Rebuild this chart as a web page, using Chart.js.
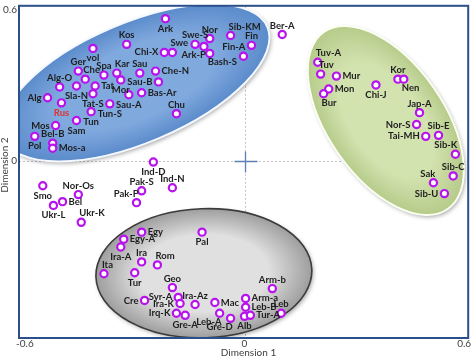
<!DOCTYPE html>
<html>
<head>
<meta charset="utf-8">
<script src="https://cdn.jsdelivr.net/npm/chart.js@4/dist/chart.umd.min.js"></script>
<style>
  html, body { margin: 0; padding: 0; background: #ffffff; }
  #wrap { width: 474px; height: 357px; position: relative; }
</style>
</head>
<body>
<div id="wrap"><canvas id="c" width="474" height="357"></canvas></div>
<script>
// ---------- DATA ----------
const names = [
  'Kos','vol','Ger','Che','Spa','Kar','Sau','Che-N','Alg-O','Sla-N','Tat','Mor','Tat-S','Sau-A','Bas-Ar','Sau-B',
  'Alg','Rus','Tun-S','Tun','Sam','Mos','Pol','Bel-B','Mos-a','Ark','Chi-X','Swe','Swe-S','Ark-P','Nor','Bash-S',
  'Sib-KM','Fin','Fin-A','Chu','Ber-A',
  'Tuv-A','Tuv','Mur','Mon','Bur','Chi-J','Kor','Nen','Jap-A','Nor-S','Sib-E','Tai-MH','Sib-K','Sib-C','Sak','Sib-U',
  'Ind-D','Ind-N','Pak-S','Pak-P','Smo','Nor-Os','Bel','Ukr-L','Ukr-K',
  'Egy','Egy-A','Ira-A','Ira','Rom','Ita','Tur','Pal','Geo','Cre','Syr-A','Ira-K','Ira-Az','Irq-K','Gre-A','Mac',
  'Leb-A','Gre-D','Alb','Arm-a','Leb-B','Tur-A','Leb','Arm-b'
];
const dim1 = [
  -0.322,-0.414,-0.454,-0.435,-0.384,-0.349,-0.286,-0.243,-0.505,-0.459,-0.408,-0.338,-0.414,-0.316,-0.281,-0.235,
  -0.538,-0.500,-0.368,-0.419,-0.459,-0.516,-0.573,-0.524,-0.524,-0.216,-0.219,-0.197,-0.135,-0.111,-0.095,-0.095,
  -0.038,0.019,-0.003,-0.186,0.103,
  0.200,0.208,0.251,0.230,0.216,0.359,0.419,0.435,0.478,0.470,0.530,0.495,0.576,0.570,0.516,0.546,
  -0.249,-0.197,-0.281,-0.295,-0.551,-0.454,-0.497,-0.522,-0.446,
  -0.281,-0.330,-0.338,-0.281,-0.238,-0.384,-0.300,-0.116,-0.197,-0.273,-0.181,-0.176,-0.135,-0.186,-0.162,-0.081,
  -0.068,-0.038,0.000,0.003,0.003,0.016,0.100,0.076
];
const dim2 = [
  0.463,0.447,0.357,0.325,0.341,0.349,0.349,0.357,0.294,0.298,0.298,0.322,0.267,0.263,0.271,0.314,
  0.251,0.231,0.227,0.196,0.161,0.141,0.098,0.071,0.051,0.565,0.431,0.431,0.463,0.455,0.486,0.427,
  0.498,0.459,0.416,0.188,0.502,
  0.392,0.345,0.337,0.286,0.267,0.302,0.325,0.325,0.192,0.145,0.102,0.098,0.027,-0.059,-0.086,-0.129,
  -0.004,-0.106,-0.118,-0.165,-0.098,-0.133,-0.161,-0.176,-0.243,
  -0.282,-0.310,-0.341,-0.400,-0.412,-0.447,-0.443,-0.282,-0.502,-0.553,-0.541,-0.565,-0.569,-0.604,-0.612,-0.561,
  -0.604,-0.624,-0.616,-0.545,-0.580,-0.612,-0.604,-0.506
];
const highlighted = ['Rus'];
const xTicks = [-0.6, 0, 0.6];
const yTicks = [0.6, 0];
const xTitle = 'Dimension 1';
const yTitle = 'Dimension 2';

// ---------- STYLE (label placement, group shapes) ----------
const labelPos = [
  'a','b','a','ar','a','ar','a','r','a','b','r','b','b','b','r','l',
  'l','b','b','b','b','l','b','a','r','b','l','ar','a','bl','a','br',
  'ar','a','al','a','a',
  'ar','ar','r','r','br','b','a','br','a','l','a','l','al','a','al','l',
  'b','a','a','al','b','a','r','b','ar',
  'r','r','b','a','ar','ar','b','b','a','l','l','l','a','l','b','r',
  'bl','bl','b','r','r','r','a','a'
];
const groupShapes = [
  { cx: -0.297, cy: 0.310, rx: 143, ry: 60, rot: -23, inner: '#80a9de', outer: '#5b8bcb', stroke: '#f4f8ff', lw: 2 },
  { cx: 0.386,  cy: 0.161, rx: 108, ry: 58, rot: 55,  inner: '#d3e3b0', outer: '#b6cb8a', stroke: '#fbfff2', lw: 2 },
  { cx: -0.111, cy: -0.445, rx: 108, ry: 64.5, rot: -2, inner: '#e0e0e0', outer: '#9e9e9e', stroke: '#3c3c3c', lw: 1.6 }
];

const points = names.map((n, i) => ({ x: dim1[i], y: dim2[i] }));

const shapesPlugin = {
  id: 'shapes',
  beforeDatasetsDraw(chart) {
    const { ctx, chartArea: a, scales: { x, y } } = chart;
    ctx.save();
    ctx.beginPath(); ctx.rect(a.left, a.top, a.right - a.left, a.bottom - a.top); ctx.clip();
    ctx.strokeStyle = '#c4c4c4'; ctx.lineWidth = 1; ctx.setLineDash([2, 2]);
    const x0 = Math.round(x.getPixelForValue(0)) + 0.5, y0 = Math.round(y.getPixelForValue(0)) + 0.5;
    ctx.beginPath(); ctx.moveTo(x0, a.top); ctx.lineTo(x0, a.bottom); ctx.stroke();
    ctx.beginPath(); ctx.moveTo(a.left, y0); ctx.lineTo(a.right, y0); ctx.stroke();
    ctx.setLineDash([]);
    groupShapes.forEach(s => {
      const px = x.getPixelForValue(s.cx), py = y.getPixelForValue(s.cy);
      const r = s.rot * Math.PI / 180;
      ctx.save();
      ctx.shadowColor = 'rgba(0,0,0,0.35)'; ctx.shadowBlur = 4; ctx.shadowOffsetX = 1.5; ctx.shadowOffsetY = 2;
      ctx.beginPath(); ctx.ellipse(px, py, s.rx, s.ry, r, 0, Math.PI * 2);
      ctx.fillStyle = s.outer; ctx.fill();
      ctx.restore();
      ctx.save();
      ctx.translate(px, py); ctx.rotate(r); ctx.scale(1, s.ry / s.rx);
      const g = ctx.createRadialGradient(0, 0, 0, 0, 0, s.rx);
      g.addColorStop(0, s.inner); g.addColorStop(0.6, s.inner); g.addColorStop(1, s.outer);
      ctx.beginPath(); ctx.arc(0, 0, s.rx, 0, Math.PI * 2);
      ctx.fillStyle = g; ctx.fill();
      ctx.restore();
      ctx.beginPath(); ctx.ellipse(px, py, s.rx, s.ry, r, 0, Math.PI * 2);
      ctx.strokeStyle = s.stroke; ctx.lineWidth = s.lw; ctx.stroke();
    });
    ctx.strokeStyle = '#5b7fb4'; ctx.lineWidth = 1.3;
    ctx.beginPath();
    ctx.moveTo(x0 - 11, y0); ctx.lineTo(x0 + 12, y0);
    ctx.moveTo(x0, y0 - 10); ctx.lineTo(x0, y0 + 11);
    ctx.stroke();
    ctx.restore();
  },
  afterDatasetsDraw(chart) {
    const { ctx } = chart;
    const meta = chart.getDatasetMeta(0);
    ctx.save();
    ctx.font = 'bold 9.5px Lato, "Liberation Sans", sans-serif';
    ctx.textBaseline = 'middle';
    meta.data.forEach((el, i) => {
      const p = labelPos[i];
      let tx = el.x, ty = el.y, al = 'center';
      if (p === 'a') { ty -= 9; }
      else if (p === 'b') { ty += 10; }
      else if (p === 'l') { tx -= 6; al = 'right'; }
      else if (p === 'r') { tx += 6; al = 'left'; }
      else if (p === 'ar') { tx -= 2; ty -= 9; al = 'left'; }
      else if (p === 'al') { tx += 2; ty -= 9; al = 'right'; }
      else if (p === 'br') { tx -= 2; ty += 9; al = 'left'; }
      else if (p === 'bl') { tx += 2; ty += 9; al = 'right'; }
      ctx.textAlign = al;
      ctx.fillStyle = highlighted.includes(names[i]) ? '#e0322e' : '#1e1e1e';
      ctx.fillText(names[i], tx, ty);
    });
    ctx.restore();
  },
  afterDraw(chart) {
    const { ctx, chartArea: a, scales: { x, y } } = chart;
    ctx.save();
    ctx.strokeStyle = '#2b4f8a'; ctx.lineWidth = 2;
    ctx.strokeRect(a.left, a.top, a.right - a.left, a.bottom - a.top);
    ctx.fillStyle = '#404040';
    ctx.font = '10px Lato, "Liberation Sans", sans-serif';
    ctx.textBaseline = 'middle';
    ctx.textAlign = 'center';
    xTicks.forEach(v => ctx.fillText(String(v), x.getPixelForValue(v), a.bottom + 6));
    ctx.textAlign = 'right';
    yTicks.forEach(v => ctx.fillText(String(v), a.left - 2, y.getPixelForValue(v)));
    ctx.textAlign = 'center';
    ctx.fillText(xTitle, x.getPixelForValue(0) + 4, a.bottom + 15);
    ctx.save();
    ctx.translate(5, y.getPixelForValue(0) + 4);
    ctx.rotate(-Math.PI / 2);
    ctx.fillText(yTitle, 0, 0);
    ctx.restore();
    ctx.restore();
  }
};

new Chart(document.getElementById('c'), {
  type: 'scatter',
  data: {
    datasets: [{
      data: points,
      pointRadius: 3.6,
      pointHoverRadius: 3.6,
      pointBorderWidth: 2.2,
      pointBorderColor: '#b812ee',
      pointBackgroundColor: '#ffffff'
    }]
  },
  options: {
    responsive: false,
    animation: false,
    events: [],
    layout: { padding: { left: 19, right: 2, top: 2, bottom: 19 } },
    plugins: { legend: { display: false }, tooltip: { enabled: false } },
    scales: {
      x: { type: 'linear', display: false, min: -0.616, max: 0.611 },
      y: { type: 'linear', display: false, min: -0.702, max: 0.616 }
    }
  },
  plugins: [shapesPlugin]
});
</script>
</body>
</html>
